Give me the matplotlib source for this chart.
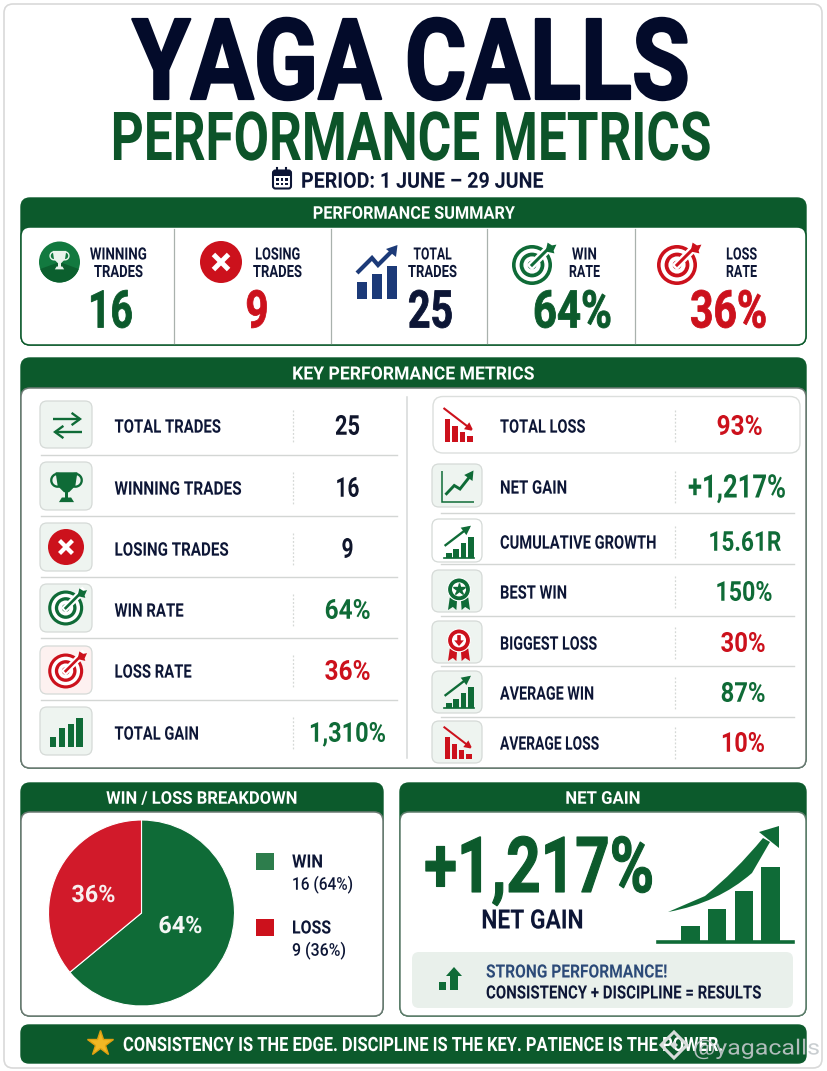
import numpy as np
import matplotlib
matplotlib.use("Agg")
import matplotlib.pyplot as plt
from matplotlib.patches import FancyBboxPatch, Circle, Rectangle, Polygon, Wedge, PathPatch, FancyArrowPatch
from matplotlib.path import Path
from matplotlib.patheffects import AbstractPathEffect
from matplotlib.transforms import Affine2D

# ---------- data ----------
title = "YAGA CALLS"
subtitle = "PERFORMANCE METRICS"
period = "PERIOD: 1 JUNE – 29 JUNE"
summary_labels = [("WINNING", "TRADES"), ("LOSING", "TRADES"), ("TOTAL", "TRADES"), ("WIN", "RATE"), ("LOSS", "RATE")]
summary_values = ["16", "9", "25", "64%", "36%"]
left_labels = ["TOTAL TRADES", "WINNING TRADES", "LOSING TRADES", "WIN RATE", "LOSS RATE", "TOTAL GAIN"]
left_values = ["25", "16", "9", "64%", "36%", "1,310%"]
right_labels = ["TOTAL LOSS", "NET GAIN", "CUMULATIVE GROWTH", "BEST WIN", "BIGGEST LOSS", "AVERAGE WIN", "AVERAGE LOSS"]
right_values = ["93%", "+1,217%", "15.61R", "150%", "30%", "87%", "10%"]
pie_names = ["WIN", "LOSS"]
pie_counts = [16, 9]
pie_shares = [64, 36]
growth_bars = [15, 32, 50, 74]
footer = "CONSISTENCY IS THE EDGE. DISCIPLINE IS THE KEY. PATIENCE IS THE POWER."

FONT = "Roboto"
NAVY = "#0d1636"; INK = "#10162c"; GREEN = "#0c5a2c"; GREEN2 = "#0f6b37"; RED = "#cc111c"; BLUE = "#1c3a78"
W, H = 828, 1071
fig = plt.figure(figsize=(W/100, H/100), dpi=100, facecolor="white")
ax = fig.add_axes([0, 0, 1, 1]); ax.set_xlim(0, W); ax.set_ylim(H, 0); ax.axis("off")
rend = fig.canvas.get_renderer()

class VScale(AbstractPathEffect):
    """Stretch glyphs upward from their baseline, giving a condensed look."""
    def __init__(self, sy, stroke=0.0):
        super().__init__(); self.sy = sy; self.stroke = stroke
    def draw_path(self, renderer, gc, tpath, affine, rgbFace=None):
        g = renderer.new_gc(); g.copy_properties(gc)
        if self.stroke:
            g.set_linewidth(self.stroke); g.set_foreground(rgbFace)
        renderer.draw_path(g, tpath, Affine2D().scale(1, self.sy) + affine, rgbFace)
        g.restore()

def T(x, cy, s, w, cap, color=NAVY, ha="left", weight="bold", stroke=0.0, z=9, alpha=None, on=None):
    t = (on or ax).text(x, cy + cap/2, s, fontsize=20, color=color, ha=ha, va="baseline",
                family=FONT, weight=weight, zorder=z, alpha=alpha)
    e = t.get_window_extent(rend).width
    size = 20*w/e
    t.set_fontsize(size)
    t.set_path_effects([VScale(cap/(0.711*size*100/72), stroke)])
    return t

def rbox(x0, y0, x1, y1, r, fc="white", ec="none", lw=1.0, z=1):
    p = FancyBboxPatch((x0, y0), x1-x0, y1-y0, boxstyle=f"round,pad=0,rounding_size={r}",
                       fc=fc, ec=ec, lw=lw, zorder=z)
    ax.add_patch(p); return p

def panel(x0, y0, x1, y1, hh, head, hw, cap, ec=GREEN):
    rbox(x0, y0, x1, y1, 9, fc=GREEN, ec=GREEN, lw=1, z=1)
    rbox(x0, y0+hh, x1, y1, 9, fc="white", ec=ec, lw=1.1, z=2)
    T((x0+x1)/2, y0+hh/2, head, hw, cap, color="white", ha="center")

def bars(x0, base, w, gap, hs, c, z=6):
    for i, h in enumerate(hs):
        ax.add_patch(Rectangle((x0+i*(w+gap), base-h), w, h, fc=c, ec="none", zorder=z))

def arrow(x0, y0, x1, y1, c, lw=2, ms=9, z=7, style="-|>"):
    ax.add_patch(FancyArrowPatch((x0, y0), (x1, y1), arrowstyle=style, mutation_scale=ms, color=c, lw=lw,
                                 shrinkA=0, shrinkB=0, zorder=z, joinstyle="miter", capstyle="butt"))

def polyline(xy, c, lw=2, z=7):
    xy = np.array(xy); ax.plot(xy[:, 0], xy[:, 1], color=c, lw=lw, zorder=z, solid_joinstyle="miter", solid_capstyle="butt")

def x_badge(cx, cy, r):
    ax.add_patch(Circle((cx, cy), r, fc=RED, ec="none", zorder=6))
    d = r*.36
    for s in (1, -1):
        ax.plot([cx-d, cx+d], [cy-s*d, cy+s*d], color="white", lw=r*.17, solid_capstyle="butt", zorder=7)

def trophy(cx, cy, s, c):
    for sx in (-1, 1):
        ax.add_patch(Wedge((cx+sx*.42*s, cy-.32*s), .36*s, 0, 360, width=.11*s, fc=c, ec="none", zorder=6))
    ax.add_patch(Polygon([(cx-.52*s, cy-.7*s), (cx+.52*s, cy-.7*s), (cx+.42*s, cy-.05*s), (cx+.12*s, cy+.25*s),
                          (cx-.12*s, cy+.25*s), (cx-.42*s, cy-.05*s)], fc=c, ec="none", zorder=7))
    ax.add_patch(Rectangle((cx-.08*s, cy+.2*s), .16*s, .35*s, fc=c, zorder=7))
    ax.add_patch(Polygon([(cx-.22*s, cy+.5*s), (cx+.22*s, cy+.5*s), (cx+.36*s, cy+.72*s), (cx-.36*s, cy+.72*s)], fc=c, zorder=7))

def target(cx, cy, r, c):
    ax.add_patch(Circle((cx, cy), r, fc=c, zorder=6))
    ax.add_patch(Circle((cx, cy), r*.82, fc="white", zorder=6))
    ax.add_patch(Circle((cx, cy), r*.62, fc=c, zorder=6))
    ax.add_patch(Circle((cx, cy), r*.43, fc="white", zorder=6))
    ax.add_patch(Circle((cx, cy), r*.22, fc=c, zorder=6))
    ax.plot([cx, cx+r*.95], [cy, cy-r*.95], color="white", lw=r*.28, zorder=7)
    ax.plot([cx, cx+r*.9], [cy, cy-r*.9], color=c, lw=r*.11, zorder=8)
    ax.add_patch(Polygon([(cx+r*.68, cy-r*.68), (cx+r*.78, cy-r*1.12), (cx+r*1.0, cy-r*.98), (cx+r*1.22, cy-r*1.02),
                          (cx+r*1.08, cy-r*.72), (cx+r*1.12, cy-r*.58)], fc=c, zorder=8))

def down_chart(cx, cy, s, c=RED):
    bars(cx-.55*s, cy+.62*s, .22*s, .08*s, [.9*s, .62*s, .38*s, .22*s], c)
    arrow(cx-.6*s, cy-.72*s, cx+.6*s, cy+.2*s, c, lw=s*.06, ms=s*.38)

def up_chart(cx, cy, s, c=GREEN2):
    bars(cx-.55*s, cy+.62*s, .24*s, .07*s, [.2*s, .38*s, .6*s, .85*s], c)
    ax.plot([cx-.62*s, cx+.62*s], [cy+.62*s]*2, color=c, lw=1.2, zorder=6)
    arrow(cx-.6*s, cy+.12*s, cx+.5*s, cy-.72*s, c, lw=s*.07, ms=s*.42)

def ribbon(cx, cy, s, c, down=False):
    for sx in (-1, 1):
        ax.add_patch(Polygon([(cx+sx*.08*s, cy+.25*s), (cx+sx*.42*s, cy+.25*s), (cx+sx*.5*s, cy+.82*s),
                              (cx+sx*.28*s, cy+.68*s), (cx+sx*.12*s, cy+.82*s)], fc=c, zorder=6))
    ax.add_patch(Circle((cx, cy-.12*s), .52*s, fc=c, ec="white", lw=.8, zorder=7))
    if down:
        ax.add_patch(Circle((cx, cy-.12*s), .32*s, fc="white", zorder=8))
        ax.add_patch(Polygon([(cx-.08*s, cy-.36*s), (cx+.08*s, cy-.36*s), (cx+.08*s, cy-.12*s), (cx+.22*s, cy-.12*s),
                              (cx, cy+.14*s), (cx-.22*s, cy-.12*s), (cx-.08*s, cy-.12*s)], fc=c, zorder=9))
    else:
        ax.add_patch(Circle((cx, cy-.12*s), .32*s, fc="white", zorder=8))
        ax.plot([cx], [cy-.12*s], marker="*", ms=s*.4, mfc=c, mec=c, zorder=9)

def line_chart(cx, cy, s, c=GREEN2):
    polyline([(cx-.62*s, cy-.6*s), (cx-.62*s, cy+.62*s), (cx+.66*s, cy+.62*s)], c, lw=1.1)
    polyline([(cx-.5*s, cy+.35*s), (cx-.15*s, cy-.02*s), (cx+.08*s, cy+.12*s), (cx+.45*s, cy-.35*s)], c, lw=2.1)
    ax.add_patch(Polygon([(cx+.25*s, cy-.44*s), (cx+.62*s, cy-.62*s), (cx+.58*s, cy-.2*s)], fc=c, zorder=8))

# ---------- card ----------
rbox(4, 4, 822, 1068, 9, fc="white", ec="#d9d9d9", lw=1.2, z=0)

# ---------- heading ----------
T(411, 59, title, 556, 80, color="#030b2a", ha="center", stroke=1.6)
T(411, 136, subtitle, 600, 48, color="#0c5429", ha="center")
T(301, 180, period, 242, 15.5, color=NAVY)
rbox(273, 170.5, 291, 188.5, 2.5, fc="white", ec=NAVY, lw=1.5, z=5)
ax.add_patch(Rectangle((273, 171), 18, 4.5, fc=NAVY, zorder=6))
for yy in (179.5, 184):
    for xx in (277.5, 282, 286.5):
        ax.add_patch(Rectangle((xx-1.1, yy-1.1), 2.2, 2.2, fc=NAVY, zorder=6))
for xx in (277.5, 286.5):
    ax.plot([xx, xx], [168, 172], color=NAVY, lw=1.5, zorder=7)

# ---------- summary ----------
panel(21, 198, 806, 345, 29, "PERFORMANCE SUMMARY", 202, 12.5)
for x in (174.5, 331, 487.5, 635):
    ax.plot([x, x], [229, 343], color="#a9b1ad", lw=0.9, zorder=3)
sum_lab_x = [118.5, 277.5, 432.5, 584.5, 741.5]
sum_lab_w = [(57, 49), (45, 49), (38, 49), (25, 31), (31, 31)]
sum_val_x = [110.5, 257, 430.5, 572.5, 728.5]
sum_val_w = [45, 23, 45, 79, 77]
sum_cols = [GREEN, RED, NAVY, GREEN, RED]
for lx, lw_, vx, vw, c, lab, val in zip(sum_lab_x, sum_lab_w, sum_val_x, sum_val_w, sum_cols, summary_labels, summary_values):
    T(lx, 253.5, lab[0], lw_[0], 12, ha="center")
    T(lx, 271, lab[1], lw_[1], 12, ha="center")
    T(vx, 309, val, vw, 37, color=c, ha="center", stroke=0.6)
ax.add_patch(Circle((59.5, 262), 20.5, fc="#12793f", zorder=5))
ax.add_patch(Wedge((59.5, 262), 20.5, 20, 160, fc="#0b5f2e", zorder=5))
trophy(59.5, 260, 13, "#eaf3ec")
x_badge(221, 262, 21)
bars(357, 299, 10.5, 4.5, [17, 25, 33], BLUE)
polyline([(357, 273), (372, 258), (378, 265), (392, 251)], BLUE, lw=3)
ax.add_patch(Polygon([(386, 249), (397.5, 245), (396, 257)], fc=BLUE, zorder=8))
target(532, 265, 20, GREEN2)
target(677, 265, 20, RED)

# ---------- key metrics ----------
panel(21, 358, 806, 768, 30, "KEY PERFORMANCE METRICS", 242, 13, ec="#6d7a74")
ax.plot([407, 407], [397, 758], color="#d6d9d8", lw=1.1, zorder=3)
ROWL = [426, 488, 549, 610, 671, 733]
BOXL = [(401, 448), (462, 510), (523, 571), (584, 632), (646, 694), (707, 755)]
left_w = [106, 127, 114, 69, 77, 84]
left_vw = [25, 24, 12, 46, 46, 77]
left_colors = [INK, INK, INK, GREEN2, RED, GREEN2]
for i, (cy, lab, val, c, b, lw_, vw) in enumerate(zip(ROWL, left_labels, left_values, left_colors, BOXL, left_w, left_vw)):
    fc = "#fdf1f0" if i == 4 else "#eef4f0"
    rbox(40, b[0], 92, b[1], 7, fc=fc, ec="#d5dad7", lw=.9, z=4)
    T(114.5, cy, lab, lw_, 13.3, color=NAVY)
    T(347.5, cy-1, val, vw, 19.5, color=c, ha="center")
    ax.plot([293.5, 293.5], [cy-16, cy+16], color="#d5d8d6", lw=.9, ls=(0, (1.5, 1.5)), zorder=3)
for y in (454.5, 516, 577, 638, 700):
    ax.plot([41, 397], [y, y], color="#d3d6d4", lw=1.0, zorder=3)
arrow(53, 419, 82, 419, GREEN2, lw=1.7, ms=11, style="->,head_length=.55,head_width=.4")
arrow(82, 432, 53, 432, GREEN2, lw=1.7, ms=11, style="->,head_length=.55,head_width=.4")
trophy(66.5, 487, 21, GREEN2)
x_badge(66, 547, 18)
target(65.7, 608, 17.5, GREEN2)
target(65.7, 671, 17.5, RED)
bars(50, 747, 6.2, 2.6, [10, 19, 23, 29], GREEN2)

ROWR = [426, 487, 542, 592, 643, 693, 743]
BOXR = [None, (464, 507), (519, 562), (570, 612), (621, 663), (671, 713), (721, 763)]
right_w = [85, 67, 156, 67, 97, 94, 99]
right_vw = [46, 98, 73, 57, 45, 45, 44]
right_vx = [739.5, 737, 745, 744, 743, 743, 743]
right_colors = [RED, GREEN2, GREEN2, GREEN2, RED, GREEN2, RED]
rbox(433, 396.5, 800, 453, 10, fc="white", ec="#dcdfdd", lw=1.0, z=3)
for i, (cy, lab, val, c, b, lw_, vw, vx) in enumerate(zip(ROWR, right_labels, right_values, right_colors, BOXR, right_w, right_vw, right_vx)):
    if b:
        fc = "white" if i == 2 else "#eef4f0"
        rbox(432, b[0], 482, b[1], 7, fc=fc, ec="#d5dad7", lw=.9, z=4)
    T(500, cy, lab, lw_, 13.3, color=NAVY)
    T(vx, cy-1, val, vw, 23 if i == 1 else 19.5, color=c, ha="center")
    ax.plot([675, 675], [cy-16, cy+16], color="#d5d8d6", lw=.9, ls=(0, (1.5, 1.5)), zorder=3)
for y in (513, 564, 616, 666, 717):
    ax.plot([441, 794], [y, y], color="#d3d6d4", lw=1.0, zorder=3)
down_chart(458.5, 426, 25)
line_chart(458, 486, 25)
up_chart(459, 543, 24)
ribbon(459, 592, 22, GREEN2)
ribbon(459, 643, 22, RED, down=True)
up_chart(459, 693, 24)
down_chart(458, 744, 24)

# ---------- pie ----------
panel(21, 783, 383, 1016, 29, "WIN / LOSS BREAKDOWN", 191, 12.5, ec="#6d7a74")
pax = fig.add_axes([(141.5-93)/W, 1-(913+93)/H, 186/W, 186/H])
pax.pie(pie_shares, colors=[GREEN2, "#d11a2a"], startangle=90, counterclock=False, radius=1.0,
        wedgeprops=dict(ec="white", lw=.8))
pax.set_xlim(-1, 1); pax.set_ylim(-1, 1)
pax.patch.set_alpha(0)
pax.set_zorder(2)
top = fig.add_axes([0, 0, 1, 1]); top.set_xlim(0, W); top.set_ylim(H, 0); top.axis("off")
top.patch.set_alpha(0); top.set_zorder(3)
T(180.5, 924.5, f"{pie_shares[0]}%", 44, 17, color="#f4f7f5", ha="center", on=top)
T(93.5, 893.5, f"{pie_shares[1]}%", 44, 17, color="#f8efef", ha="center", on=top)
leg_w = [(31, 61), (39, 54)]
for yy, name, n, s, c, lw_ in zip((861, 927), pie_names, pie_counts, pie_shares, ("#2d7d4c", RED), leg_w):
    ax.add_patch(Rectangle((256, yy-8), 18, 17, fc=c, zorder=6))
    T(292, yy, name, lw_[0], 13, color=NAVY)
    T(292, yy+22.5, f"{n} ({s}%)", lw_[1], 12.5, color=NAVY, weight="medium")

# ---------- net gain ----------
panel(400, 783, 806, 1016, 29, "NET GAIN", 75, 12.5, ec="#5f7d6c")
T(539, 864.5, right_values[1], 230, 55, color="#0c5a2c", ha="center", stroke=0.8)
T(532.5, 919, "NET GAIN", 102, 19, color=NAVY, ha="center")
gax = fig.add_axes([658/W, 1-941/H, 135/W, 80/H]); gax.patch.set_alpha(0); gax.axis("off")
gax.set_xlim(-1.219, 3.843); gax.set_ylim(0, 80)
gax.bar(range(4), growth_bars, width=.68, color=GREEN2, zorder=3)
gax.set_zorder(2)
ax.plot([658, 793], [941.5, 941.5], color=GREEN2, lw=2.6, zorder=6)
ax.add_patch(PathPatch(Path([(668, 912), (718, 903), (752, 873), (770, 842), (763, 838),
                             (735, 872), (705, 896), (668, 912)],
                            [1, 3, 3, 2, 2, 3, 3, 2]), fc=GREEN2, ec="none", zorder=6))
ax.add_patch(Polygon([(759, 832), (779, 826), (779, 848)], fc=GREEN2, zorder=6))
rbox(412, 952, 793, 1008, 7, fc="#e9f0eb", ec="none", z=4)
T(486, 971, "STRONG PERFORMANCE!", 181, 13, color="#2c4a78")
T(486, 992, "CONSISTENCY + DISCIPLINE = RESULTS", 275, 13, color=NAVY)
ax.add_patch(Polygon([(446, 976), (454, 967), (462, 976), (458, 976), (458, 990), (450, 990), (450, 976)], fc=GREEN2, zorder=6))
bars(439.5, 990, 7, 0, [8], GREEN2)

# ---------- footer ----------
rbox(21, 1025, 806, 1063, 8, fc=GREEN, ec=GREEN, z=2)
ax.plot([100], [1043], marker="*", ms=19, mfc="#f2b824", mec="#e0a010", zorder=6)
T(123, 1044, footer, 599, 14, color="white")
T(693, 1047, "@yagacalls", 127, 15, color="#c4c9cc", weight="regular", alpha=.9, z=10)
ax.add_patch(Polygon([(674, 1032), (687, 1045), (674, 1058), (661, 1045)], fc="none", ec="#d8dcdb", lw=2.2, zorder=10))
ax.add_patch(Polygon([(674, 1041), (678, 1045), (674, 1049), (670, 1045)], fc="#d8dcdb", zorder=10))

fig.savefig("out.png", dpi=100, facecolor="white")
